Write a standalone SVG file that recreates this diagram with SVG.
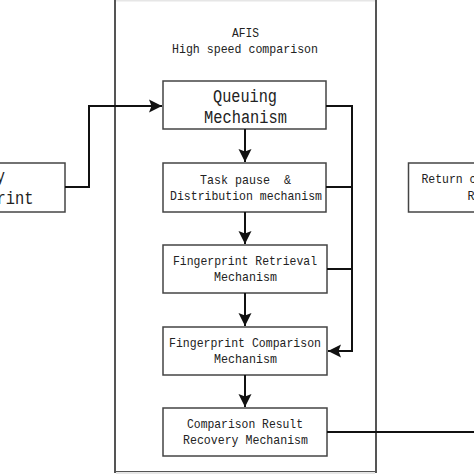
<svg xmlns="http://www.w3.org/2000/svg" width="474" height="474" viewBox="0 0 474 474">
<defs>
<style>
.box{fill:#fff;stroke:#444;stroke-width:1.5}
.frame{fill:#fff;stroke:#555;stroke-width:2}
.ln{fill:none;stroke:#111;stroke-width:2}
text{font-family:"Liberation Mono","DejaVu Sans Mono",monospace;fill:#222;text-anchor:middle}
.s{font-size:13.5px}
.b{font-size:18px}
</style>
<marker id="ah" markerUnits="userSpaceOnUse" markerWidth="14" markerHeight="14" viewBox="0 0 14 14" refX="13" refY="7" orient="auto">
<path d="M0,0.5 L13,7 L0,13.5 L2.5,7 z" fill="#111"/>
</marker>
</defs>
<rect width="474" height="474" fill="#fff"/>
<g id="afis-frame">
<rect class="frame" x="115" y="-3" width="261" height="475"/>
<rect x="116" y="0" width="259" height="1.5" fill="#e6e6e6"/>
<rect x="116" y="472" width="259" height="2" fill="#e6e6e6"/>
<text class="s" x="245.5" y="37" textLength="27" lengthAdjust="spacingAndGlyphs">AFIS</text>
<text class="s" x="245" y="53" textLength="146" lengthAdjust="spacingAndGlyphs">High speed comparison</text>
</g>
<g id="query">
<rect class="box" x="-10" y="163" width="75" height="49"/>
<text class="b" x="0.5" y="182" textLength="9" lengthAdjust="spacingAndGlyphs">y</text>
<text class="b" x="15" y="204" textLength="37" lengthAdjust="spacingAndGlyphs">rint</text>
</g>
<g id="return">
<rect class="box" x="408.5" y="163" width="80" height="49"/>
<text class="s" x="449" y="183" textLength="55" lengthAdjust="spacingAndGlyphs" style="text-anchor:start" transform="translate(-27.5,0)">Return c</text>
<text class="s" x="471" y="200" textLength="7" lengthAdjust="spacingAndGlyphs">R</text>
</g>
<g id="queuing">
<rect class="box" x="163" y="81" width="163" height="48"/>
<text class="b" x="245" y="102" textLength="64" lengthAdjust="spacingAndGlyphs">Queuing</text>
<text class="b" x="245.5" y="122.5" textLength="83" lengthAdjust="spacingAndGlyphs">Mechanism</text>
</g>
<g id="task">
<rect class="box" x="163" y="163" width="163" height="49"/>
<text class="s" x="245.5" y="183.5" textLength="91" lengthAdjust="spacingAndGlyphs" xml:space="preserve">Task pause  &amp;</text>
<text class="s" x="246" y="200" textLength="152" lengthAdjust="spacingAndGlyphs">Distribution mechanism</text>
</g>
<g id="retrieval">
<rect class="box" x="163" y="245" width="164" height="48"/>
<text class="s" x="245" y="265" textLength="144" lengthAdjust="spacingAndGlyphs">Fingerprint Retrieval</text>
<text class="s" x="245.5" y="281" textLength="63" lengthAdjust="spacingAndGlyphs">Mechanism</text>
</g>
<g id="comparison">
<rect class="box" x="163" y="327" width="164" height="48"/>
<text class="s" x="245" y="347" textLength="152" lengthAdjust="spacingAndGlyphs">Fingerprint Comparison</text>
<text class="s" x="245.5" y="363" textLength="63" lengthAdjust="spacingAndGlyphs">Mechanism</text>
</g>
<g id="result">
<rect class="box" x="163" y="408" width="164" height="48"/>
<text class="s" x="245" y="428" textLength="116" lengthAdjust="spacingAndGlyphs">Comparison Result</text>
<text class="s" x="245.5" y="444" textLength="125" lengthAdjust="spacingAndGlyphs">Recovery Mechanism</text>
</g>
<g id="connectors">
<path class="ln" d="M65,187 H89 V106 H162" marker-end="url(#ah)"/>
<path class="ln" d="M245,129 V162" marker-end="url(#ah)"/>
<path class="ln" d="M245,212 V244" marker-end="url(#ah)"/>
<path class="ln" d="M245,293 V326" marker-end="url(#ah)"/>
<path class="ln" d="M245,375 V407" marker-end="url(#ah)"/>
<path class="ln" d="M326,106 H352 V351 H328" marker-end="url(#ah)"/>
<path class="ln" d="M326,187 H352"/>
<path class="ln" d="M327,269 H352"/>
<path class="ln" d="M327,432 H474"/>
</g>
</svg>
